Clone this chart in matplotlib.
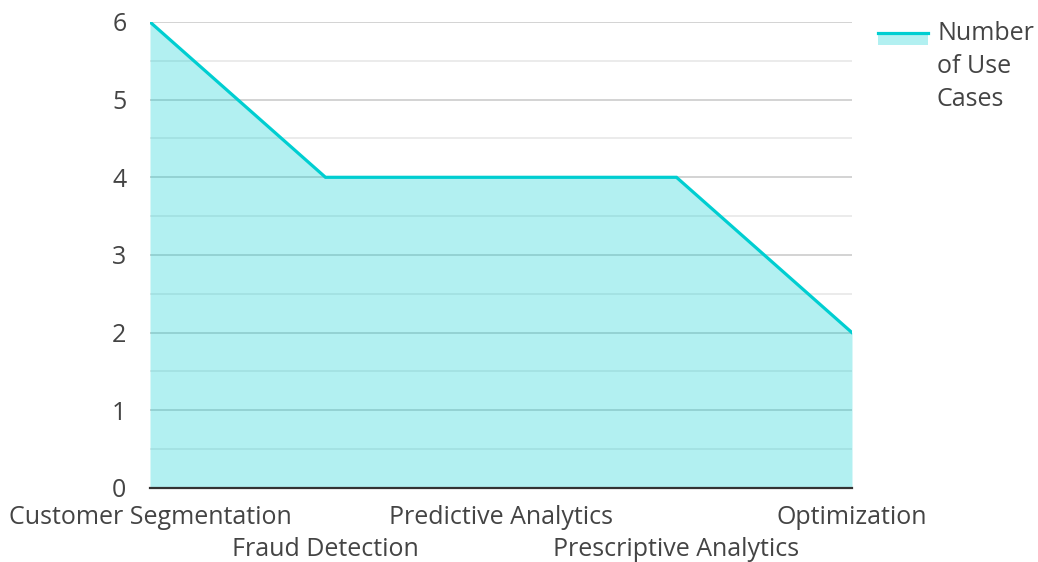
"""Area chart: number of use cases per analytics category."""

import matplotlib

matplotlib.use("Agg")
import matplotlib.pyplot as plt
from matplotlib.lines import Line2D
from matplotlib.patches import Rectangle
import numpy as np

CATEGORIES = [
    "Customer Segmentation",
    "Fraud Detection",
    "Predictive Analytics",
    "Prescriptive Analytics",
    "Optimization",
]
USE_CASES = [6, 4, 4, 4, 2]
SERIES_NAME = "Number\nof Use\nCases"
Y_TICKS = [0, 1, 2, 3, 4, 5, 6]

LINE_COLOR = "#00CED1"
TEXT_COLOR = "#444444"
FONT_SIZE = 18

plt.rcParams.update({
    "font.family": ["Open Sans", "Noto Sans", "DejaVu Sans"],
    "font.size": FONT_SIZE,
})

fig = plt.figure(figsize=(10.38, 5.62), dpi=100)
ax = fig.add_axes([0.1445, 0.1317, 0.8208 - 0.1445, 0.9609 - 0.1317])

x = np.arange(len(CATEGORIES))
ax.fill_between(x, USE_CASES, 0, color=LINE_COLOR, alpha=0.3, linewidth=0, zorder=2)
ax.plot(x, USE_CASES, color=LINE_COLOR, linewidth=2.3, zorder=3, solid_joinstyle="miter")

ax.set_xlim(0, len(CATEGORIES) - 1)
ax.set_ylim(0, max(Y_TICKS))
ax.set_yticks(Y_TICKS)
ax.set_yticks(np.arange(0.5, max(Y_TICKS), 1.0), minor=True)
ax.set_axisbelow(True)
ax.grid(axis="y", which="major", color="#cccccc", linewidth=1.2)
ax.grid(axis="y", which="minor", color="#e8e8e8", linewidth=1.2)

for side in ["top", "right", "left"]:
    ax.spines[side].set_visible(False)
ax.spines["bottom"].set_color("#333333")
ax.spines["bottom"].set_linewidth(1.6)
ax.spines["bottom"].set_zorder(4)

ax.set_xticks(x)
ax.set_xticklabels(CATEGORIES)
ax.tick_params(axis="both", which="both", length=0, colors=TEXT_COLOR, labelsize=FONT_SIZE)
ax.tick_params(axis="y", pad=17)
for i, tick in enumerate(ax.xaxis.get_major_ticks()):
    tick.set_pad(12 if i % 2 == 0 else 35)

# legend drawn in figure pixels
W, H = fig.get_size_inches() * fig.dpi
fig.add_artist(Rectangle((878 / W, 1 - 45 / H), 50 / W, 13 / H,
                         transform=fig.transFigure, facecolor=LINE_COLOR,
                         alpha=0.3, linewidth=0))
fig.add_artist(Line2D([878 / W, 928 / W], [1 - 33 / H, 1 - 33 / H],
                      transform=fig.transFigure, color=LINE_COLOR, linewidth=2.3))
fig.text(937 / W, 1 - 21 / H, SERIES_NAME, ha="left", va="top",
         color=TEXT_COLOR, fontsize=FONT_SIZE, linespacing=1.42)

fig.savefig("out.png", dpi=100)
